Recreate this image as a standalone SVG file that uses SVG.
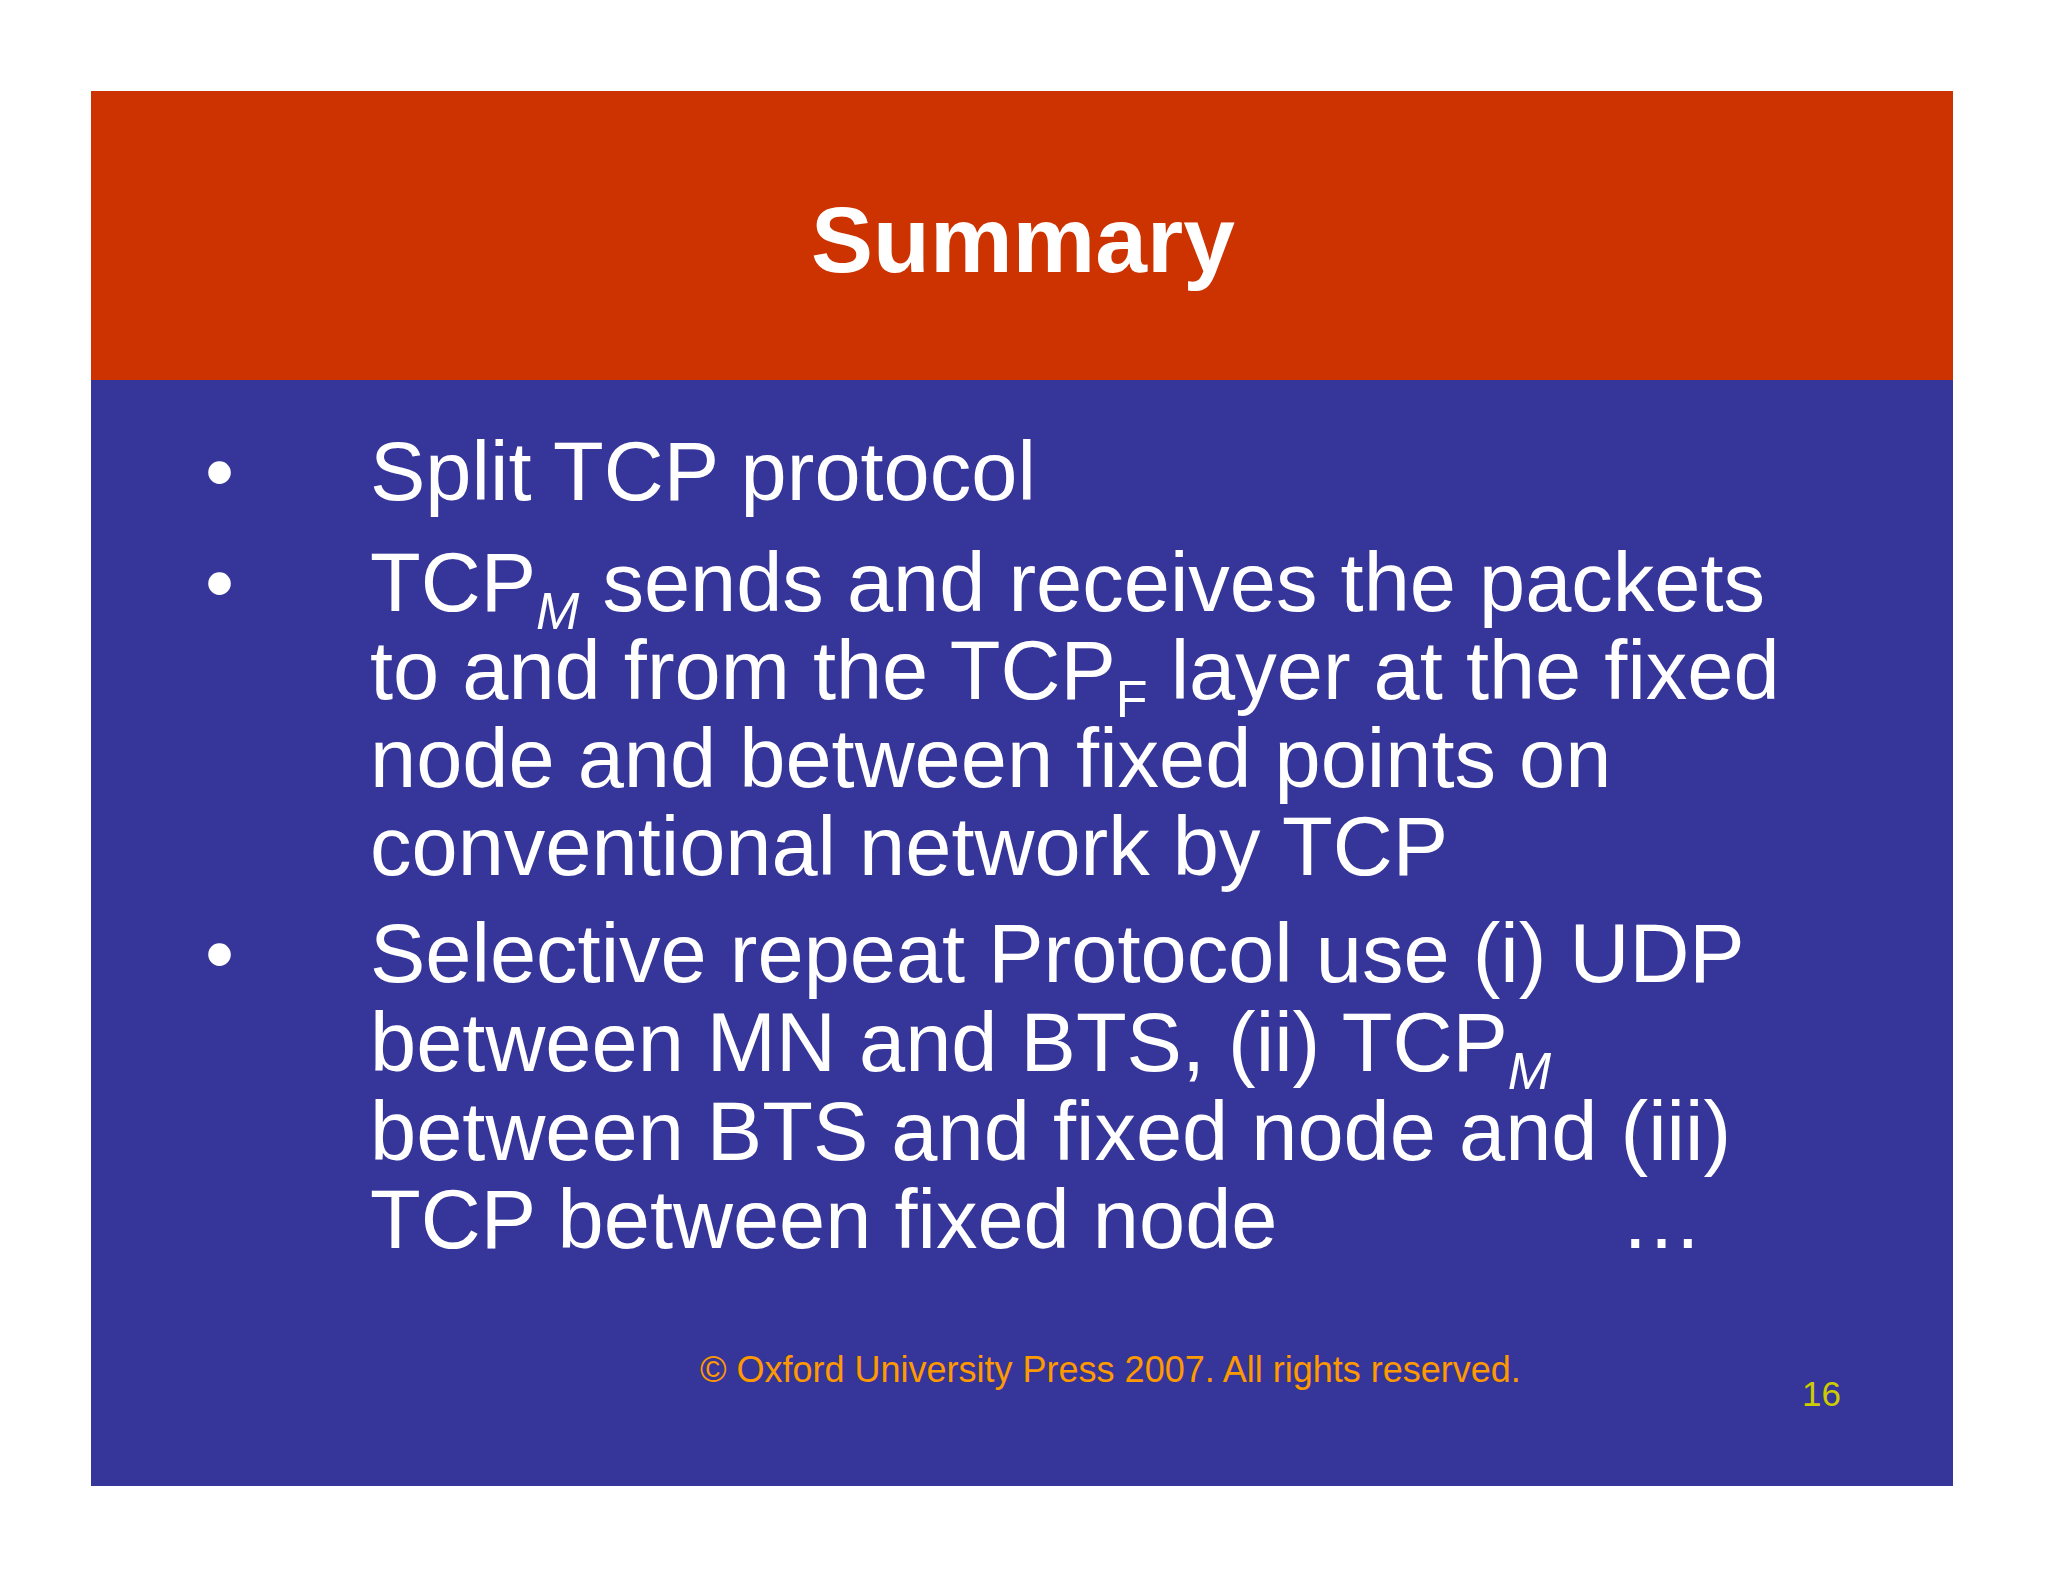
<svg xmlns="http://www.w3.org/2000/svg" width="2048" height="1582" viewBox="0 0 2048 1582">
<style>
.b{font-family:"Liberation Sans",Arial,sans-serif;font-size:83px;fill:#fff}
.s{font-size:52px}
</style>
<rect width="2048" height="1582" fill="#fff"/>
<g id="title">
<rect x="91" y="91" width="1862" height="289" fill="#CC3300"/>
<text x="1023" y="272" text-anchor="middle" font-family="Liberation Sans,Arial,sans-serif" font-weight="bold" font-size="93" fill="#fff">Summary</text>
</g>
<g id="body">
<rect x="91" y="380" width="1862" height="1106" fill="#363599"/>
<text class="b" x="205" y="500">•</text>
<text class="b" x="205" y="611">•</text>
<text class="b" x="205" y="982">•</text>
<text class="b" x="370" y="500">Split TCP protocol</text>
<text class="b" x="370" y="611">TCP<tspan class="s" font-style="italic" dy="18">M</tspan><tspan dy="-18"> sends and receives the packets</tspan></text>
<text class="b" x="370" y="699">to and from the TCP<tspan class="s" dy="18">F</tspan><tspan dy="-18"> layer at the fixed</tspan></text>
<text class="b" x="370" y="787">node and between fixed points on</text>
<text class="b" x="370" y="875">conventional network by TCP</text>
<text class="b" x="370" y="982">Selective repeat Protocol use (i) UDP</text>
<text class="b" x="370" y="1071">between MN and BTS, (ii) TCP<tspan class="s" font-style="italic" dy="18">M</tspan></text>
<text class="b" x="370" y="1160">between BTS and fixed node and (iii)</text>
<text class="b" x="370" y="1248">TCP between fixed node</text>
<text class="b" x="1620" y="1248">…</text>
<text x="700" y="1382" font-family="Liberation Sans,Arial,sans-serif" font-size="36" fill="#FF9900">© Oxford University Press 2007. All rights reserved.</text>
<text x="1802" y="1406" font-family="Liberation Sans,Arial,sans-serif" font-size="35" fill="#CCCC00">16</text>
</g>
</svg>
